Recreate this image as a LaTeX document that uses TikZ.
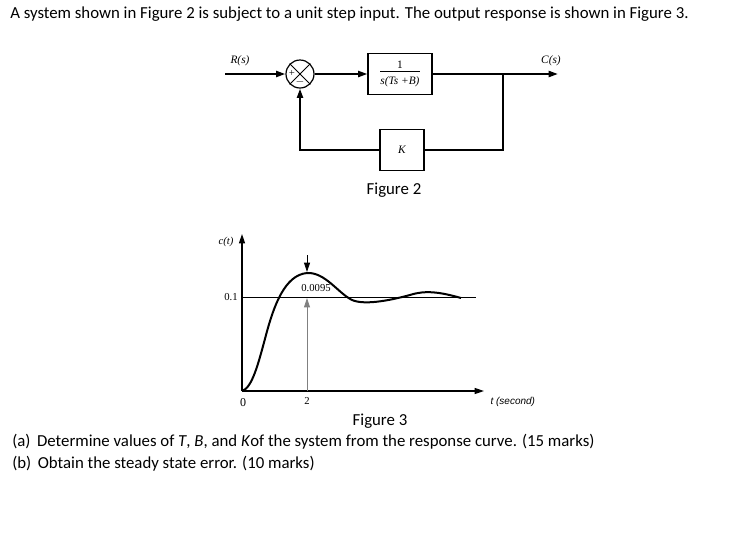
\documentclass[tikz,border=0pt]{standalone}
\usepackage{fontspec}
\setmainfont{Carlito}
\newfontfamily\tms{Liberation Serif}
\newfontfamily\hel{Liberation Sans}
\usetikzlibrary{arrows.meta}
\begin{document}
\begin{tikzpicture}[x=0.75pt,y=-0.75pt,
  thick line/.style={line width=1.6pt},
  blk/.style={draw,line width=0.8pt,minimum width=48pt,minimum height=31pt,inner sep=0pt},
  txt/.style={font=\fontsize{12.6}{14}\selectfont,inner sep=0pt,anchor=west},
  sm/.style={font=\tms\fontsize{8}{9}\selectfont,inner sep=1pt},
  arr/.style={-{Triangle[length=7pt,width=4.5pt]}}]
\useasboundingbox (0,0) rectangle (733,533);
\node[txt] (title) at (10,14) {A system shown in Figure 2 is subject to a unit step input. The output response is shown in Figure 3.};
% Figure 2
\coordinate (rin) at (225,74);
\node[draw,circle,line width=0.9pt,minimum size=21pt,inner sep=0pt] (sum) at (300,74) {};
\draw[line width=0.7pt] (sum.north west)--(sum.south east) (sum.north east)--(sum.south west);
\node[font=\tms\fontsize{8}{8}\selectfont,inner sep=0pt] at (292,73) {+};
\node[font=\tms\fontsize{8}{8}\selectfont,inner sep=0pt] at (300,82) {$-$};
\node[blk] (G) at (400,74) {\tms\fontsize{8.5}{10}\selectfont\begin{tabular}{@{}c@{}}1\\[-1pt]\hline\rule{0pt}{10pt}\itshape s(Ts +B)\end{tabular}};
\node[blk,minimum width=33pt] (K) at (402,150) {\tms\fontsize{8.5}{10}\selectfont\itshape K};
\coordinate (cout) at (558,74);
\coordinate (br) at (503,74);
\node[sm,font=\tms\itshape\fontsize{8.5}{10}\selectfont] (R) at (240,61) {R(s)};
\node[sm,font=\tms\itshape\fontsize{8.5}{10}\selectfont] (C) at (551,61) {C(s)};
\draw[thick line,arr] (rin)--(sum.west);
\draw[thick line,arr] (sum.east)--(G.west);
\draw[thick line,arr] (G.east)--(cout);
\draw[thick line] (br)|-(K.east);
\draw[thick line,arr] (K.west)-|(sum.south);
\node[txt,anchor=center] (f2) at (394,190) {Figure 2};
% Figure 3
\coordinate (O) at (242,391);
\coordinate (ytop) at (242,234);
\coordinate (xend) at (484,391);
\draw[line width=0.9pt,arr] (O)--(ytop);
\draw[line width=0.9pt,arr] (O)--(xend);
\draw[line width=0.5pt] (242,297)--(476,297);
\draw[gray,line width=0.6pt,arr] (307,391)--(307,298);
\draw[line width=0.6pt,arr] (307,255)--(307,272);
\draw[line width=1.5pt] (242,391) .. controls (252,388) and (258,365) .. (266,335)
  .. controls (274,305) and (285,275) .. (307,273)
  .. controls (325,272) and (338,293) .. (352,300)
  .. controls (366,306) and (395,299) .. (410,295)
  .. controls (425,290) and (440,292) .. (461,298);
\node[sm] (c) at (226,242) {\itshape c(t)};
\node[sm] (l01) at (231,297) {0.1};
\node[sm] (l95) at (316,288) {0.0095};
\node[sm] (l2) at (307,401) {2};
\node[sm,font=\tms\fontsize{9}{10}\selectfont] (l0) at (243,403) {0};
\node[sm,font=\hel\itshape\fontsize{7.5}{9}\selectfont,anchor=west] (lt) at (489,402) {t (second)};
\node[txt,anchor=center] (f3) at (380,421) {Figure 3};
\node[txt] (qa) at (12,442) {(a)\, Determine values of \textit{T}, \textit{B}, and \textit{K}of the system from the response curve. (15 marks)};
\node[txt] (qb) at (12,464) {(b)\, Obtain the steady state error. (10 marks)};
\end{tikzpicture}
\end{document}
